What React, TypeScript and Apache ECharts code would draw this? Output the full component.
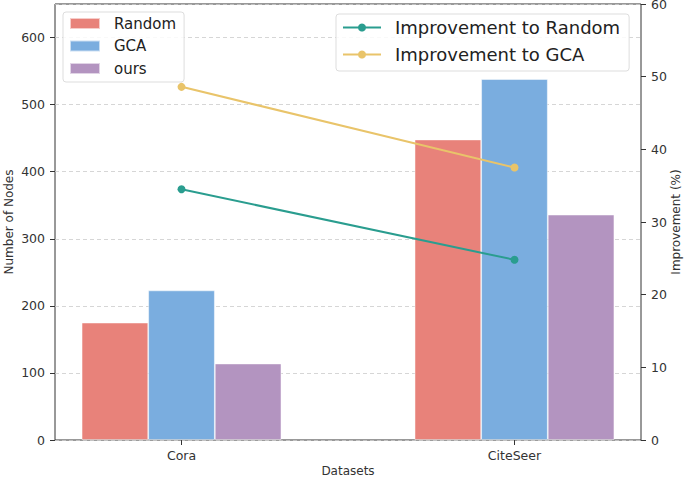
import React, { useEffect, useRef } from "react";
import * as echarts from "echarts";

const categories = ["Cora", "CiteSeer"];
const randomNodes = [175, 448];
const gcaNodes = [223, 538];
const oursNodes = [114, 336];
const improvementToRandom = [34.5, 24.8];
const improvementToGCA = [48.6, 37.5];
const leftTicks = { min: 0, max: 650, interval: 100 };
const rightTicks = { min: 0, max: 60, interval: 10 };

const FONT = "DejaVu Sans";
const C_RANDOM = "#E8827A";
const C_GCA = "#7AADDF";
const C_OURS = "#B394C0";
const C_TEAL = "#2A9D8F";
const C_YELLOW = "#E9C46A";

export default function App() {
  const ref = useRef<HTMLDivElement>(null);
  useEffect(() => {
    document.body.style.margin = "0";
    if (!ref.current) return;
    const chart = echarts.init(ref.current, null, { renderer: "svg" });
    const gridLeft = 55;
    const gridRight = 641;
    const xMin = -0.38;
    const xMax = 1.38;
    const unitPx = (gridRight - gridLeft) / (xMax - xMin);
    const barW = 0.2 * unitPx;
    const toPts = (arr: number[]) => arr.map((v, i) => [i, v]);
    const barStyle = (c: string) => ({
      color: c,
      borderColor: "rgba(255,255,255,0.6)",
      borderWidth: 0.8,
    });
    chart.setOption({
      animation: false,
      textStyle: { fontFamily: FONT },
      grid: {
        left: gridLeft,
        right: 685 - gridRight,
        top: 4,
        bottom: 478 - 440,
        containLabel: false,
        outerBoundsMode: "none",
        show: true,
        borderColor: "#333",
        borderWidth: 1,
        backgroundColor: "transparent",
      },
      legend: [
        {
          data: ["Random", "GCA", "ours"],
          orient: "vertical",
          left: 63,
          top: 12,
          icon: "rect",
          itemWidth: 30,
          itemHeight: 11,
          itemGap: 5.5,
          padding: [3, 8, 5, 6],
          backgroundColor: "rgba(255,255,255,0.85)",
          borderColor: "#DDDDDD",
          borderWidth: 1,
          borderRadius: 3,
          textStyle: {
            fontFamily: FONT,
            fontSize: 15,
            lineHeight: 17,
            color: "#222",
            padding: [0, 0, 0, 9],
          },
        },
        {
          data: ["Improvement to Random", "Improvement to GCA"],
          orient: "vertical",
          left: 336,
          top: 14,
          itemWidth: 38,
          itemHeight: 10,
          itemGap: 6,
          padding: [3, 9, 6, 6],
          backgroundColor: "rgba(255,255,255,0.85)",
          borderColor: "#DDDDDD",
          borderWidth: 1,
          borderRadius: 3,
          textStyle: {
            fontFamily: FONT,
            fontSize: 18,
            lineHeight: 21,
            color: "#222",
            padding: [0, 0, 0, 9],
          },
        },
      ],
      xAxis: {
        type: "value",
        min: xMin,
        max: xMax,
        name: "Datasets",
        nameLocation: "middle",
        nameGap: 25,
        nameMoveOverlap: false,
        nameTextStyle: { fontFamily: FONT, fontSize: 12, color: "#333" },
        axisLine: { show: false, onZero: false },
        splitLine: { show: false },
        axisTick: {
          show: true,
          customValues: [0, 1],
          length: 5,
          lineStyle: { color: "#333" },
        },
        axisLabel: {
          customValues: [0, 1],
          formatter: (v: number) => categories[Math.round(v)] ?? "",
          fontFamily: FONT,
          fontSize: 12.5,
          color: "#333",
          margin: 9,
        },
      },
      yAxis: [
        {
          type: "value",
          ...leftTicks,
          position: "left",
          name: "Number of Nodes",
          nameLocation: "middle",
          nameRotate: 90,
          nameGap: 40,
          nameMoveOverlap: false,
          nameTextStyle: { fontFamily: FONT, fontSize: 12, color: "#333" },
          axisLine: { show: false, onZero: false },
          axisTick: { show: true, length: 5, lineStyle: { color: "#333" } },
          axisLabel: {
            fontFamily: FONT,
            fontSize: 12.5,
            color: "#333",
            margin: 10,
            showMaxLabel: false,
          },
          splitLine: {
            show: true,
            lineStyle: { color: "#CCCCCC", type: [4, 3], width: 0.8 },
          },
        },
        {
          type: "value",
          ...rightTicks,
          position: "right",
          name: "Improvement (%)",
          nameLocation: "middle",
          nameRotate: 90,
          nameGap: 29,
          nameMoveOverlap: false,
          nameTextStyle: { fontFamily: FONT, fontSize: 12, color: "#333" },
          axisLine: { show: false, onZero: false },
          axisTick: { show: true, length: 5, lineStyle: { color: "#333" } },
          axisLabel: {
            fontFamily: FONT,
            fontSize: 12.5,
            color: "#333",
            margin: 10,
          },
          splitLine: { show: false },
        },
      ],
      series: [
        {
          name: "Random",
          type: "bar",
          data: toPts(randomNodes),
          barWidth: barW,
          barGap: "0%",
          itemStyle: barStyle(C_RANDOM),
          z: 2,
        },
        {
          name: "GCA",
          type: "bar",
          data: toPts(gcaNodes),
          barWidth: barW,
          barGap: "0%",
          itemStyle: barStyle(C_GCA),
          z: 2,
        },
        {
          name: "ours",
          type: "bar",
          data: toPts(oursNodes),
          barWidth: barW,
          barGap: "0%",
          itemStyle: barStyle(C_OURS),
          z: 2,
        },
        {
          name: "Improvement to Random",
          type: "line",
          yAxisIndex: 1,
          data: toPts(improvementToRandom),
          symbol: "circle",
          symbolSize: 8,
          lineStyle: { color: C_TEAL, width: 2 },
          itemStyle: { color: C_TEAL },
          z: 5,
        },
        {
          name: "Improvement to GCA",
          type: "line",
          yAxisIndex: 1,
          data: toPts(improvementToGCA),
          symbol: "circle",
          symbolSize: 8,
          lineStyle: { color: C_YELLOW, width: 2 },
          itemStyle: { color: C_YELLOW },
          z: 5,
        },
      ],
    });
    return () => chart.dispose();
  }, []);
  return <div ref={ref} style={{ width: 685, height: 478 }} />;
}
